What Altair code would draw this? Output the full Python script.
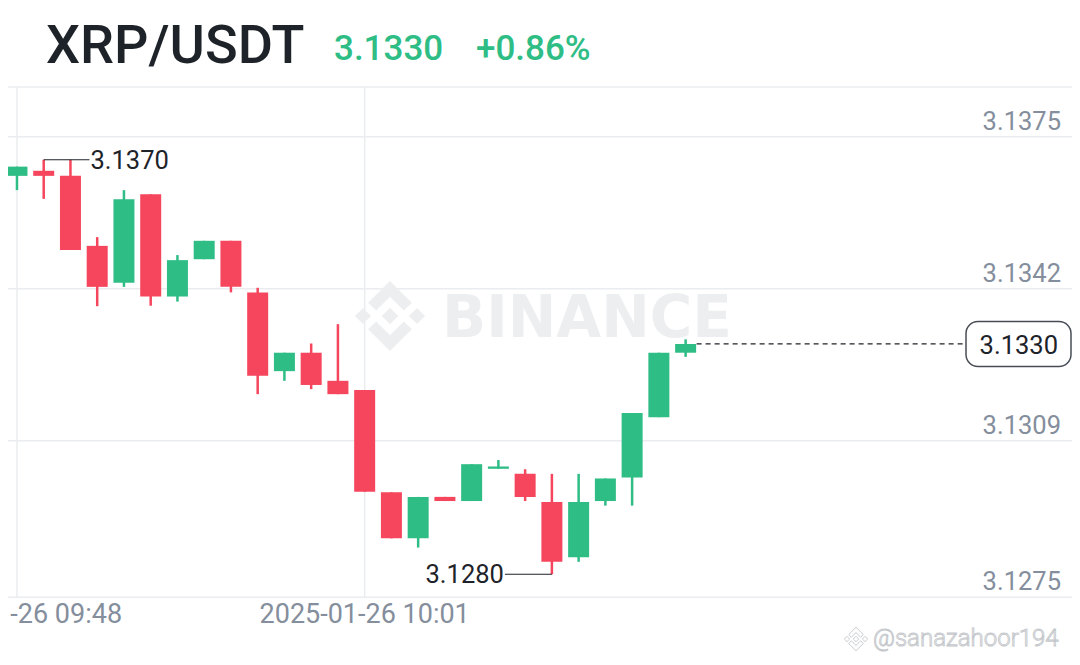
import altair as alt
import pandas as pd

# ---------------- data ----------------
times = [
    "2025-01-26 09:48", "2025-01-26 09:49", "2025-01-26 09:50", "2025-01-26 09:51",
    "2025-01-26 09:52", "2025-01-26 09:53", "2025-01-26 09:54", "2025-01-26 09:55",
    "2025-01-26 09:56", "2025-01-26 09:57", "2025-01-26 09:58", "2025-01-26 09:59",
    "2025-01-26 10:00", "2025-01-26 10:01", "2025-01-26 10:02", "2025-01-26 10:03",
    "2025-01-26 10:04", "2025-01-26 10:05", "2025-01-26 10:06", "2025-01-26 10:07",
    "2025-01-26 10:08", "2025-01-26 10:09", "2025-01-26 10:10", "2025-01-26 10:11",
    "2025-01-26 10:12", "2025-01-26 10:13",
]
opens = [3.13665, 3.13676, 3.13665, 3.13513, 3.13433, 3.13625, 3.13403, 3.13484,
         3.13524, 3.13412, 3.13241, 3.13281, 3.13220, 3.13200, 3.12978, 3.12878,
         3.12968, 3.12959, 3.13029, 3.13018, 3.12957, 3.12837, 3.12959, 3.13010,
         3.13141, 3.13281]
highs = [3.13685, 3.13700, 3.13700, 3.13532, 3.13634, 3.13625, 3.13493, 3.13524,
         3.13524, 3.13422, 3.13281, 3.13301, 3.13343, 3.13200, 3.12978, 3.12968,
         3.12968, 3.13039, 3.13048, 3.13028, 3.13018, 3.13018, 3.13008, 3.13150,
         3.13281, 3.13310]
lows = [3.13634, 3.13615, 3.13504, 3.13382, 3.13424, 3.13383, 3.13392, 3.13484,
        3.13412, 3.13191, 3.13220, 3.13202, 3.13191, 3.12979, 3.12878, 3.12858,
        3.12959, 3.12959, 3.13029, 3.12959, 3.12800, 3.12827, 3.12949, 3.12949,
        3.13141, 3.13272]
closes = [3.13685, 3.13665, 3.13504, 3.13424, 3.13614, 3.13403, 3.13482, 3.13524,
          3.13424, 3.13231, 3.13281, 3.13211, 3.13191, 3.12979, 3.12878, 3.12968,
          3.12959, 3.13039, 3.13034, 3.12968, 3.12827, 3.12957, 3.13008, 3.13150,
          3.13281, 3.13300]

price_ticks = [3.1375, 3.1342, 3.1309, 3.1275]
price_tick_labels = ["3.1375", "3.1342", "3.1309", "3.1275"]
time_ticks = ["2025-01-26 09:48", "2025-01-26 10:01"]
time_tick_labels = ["2025-01-26 09:48", "2025-01-26 10:01"]

pair_title = "XRP/USDT"
change_text = "+0.86%"
user_tag = "@sanazahoor194"
watermark_text = "BINANCE"

# ---------------- styling ----------------
UP = "#2EBD85"
DOWN = "#F6465D"
DARK = "#1E2329"
GRAY = "#848E9C"
GRID = "#EAECEF"
W, H = 1064, 646
FONT = "Roboto"

LOGO = ("M-0.394,-0.155L0,-0.549L0.394,-0.155L0.623,-0.381L0,-1L-0.623,-0.381Z "
        "M-1,0L-0.771,-0.229L-0.541,0L-0.771,0.229Z "
        "M-0.394,0.155L0,0.549L0.394,0.155L0.623,0.381L0,1L-0.623,0.381Z "
        "M1,0L0.771,-0.229L0.541,0L0.771,0.229Z "
        "M0.233,0L0,0.233L-0.233,0L0,-0.233Z")

df = pd.DataFrame({"time": times, "open": opens, "high": highs,
                   "low": lows, "close": closes})
df["dir"] = ["up" if c >= o else "down" for o, c in zip(opens, closes)]

xscale = alt.Scale(domain=[
    alt.DateTime(year=2025, month=1, date=26, hours=9, minutes=47, seconds=51, milliseconds=111),
    alt.DateTime(year=2025, month=1, date=26, hours=10, minutes=27, seconds=15, milliseconds=556),
], nice=False)
# price 3.1375 at 128.7 px and 3.1275 at 589.3 px from the top of the chart
px = 0.0100 / 460.6
yscale = alt.Scale(domain=[3.1275 - (H - 589.3) * px, 3.1375 + 128.7 * px],
                   zero=False, nice=False)
cscale = alt.Scale(domain=["up", "down"], range=[UP, DOWN])


def X(field="time:T"):
    return alt.X(field, scale=xscale, axis=None)


def Y(field):
    return alt.Y(field, scale=yscale, axis=None)


one = pd.DataFrame({"k": [0]})

# separator under header
sep = alt.Chart(one).mark_rule(color=GRID, strokeWidth=1.5).encode(
    x=alt.value(0), x2=alt.value(W), y=alt.value(79))

# vertical gridlines
vgrid_df = pd.DataFrame({"time": time_ticks, "label": time_tick_labels})
vgrid = alt.Chart(vgrid_df).mark_rule(color=GRID, strokeWidth=1.5).encode(
    x=X(), y=alt.value(79), y2=alt.value(589))

# horizontal gridlines + labels
hgrid_df = pd.DataFrame({"price": price_ticks, "label": price_tick_labels})
hgrid = alt.Chart(hgrid_df).mark_rule(color=GRID, strokeWidth=1.5).encode(
    y=Y("price:Q"), x=alt.value(0), x2=alt.value(W))
hlabels = alt.Chart(hgrid_df).mark_text(
    align="right", baseline="alphabetic", dy=-7, fontSize=25.5, font=FONT, color=GRAY
).encode(y=Y("price:Q"), x=alt.value(1053), text="label:N")

# time labels
tlabels = alt.Chart(vgrid_df).mark_text(
    align="center", baseline="middle", fontSize=27, font=FONT, color=GRAY, clip=True
).encode(x=X(), y=alt.value(607), text="label:N")

# BINANCE watermark
wm_logo = alt.Chart(one).mark_point(
    shape=LOGO, size=4900, filled=True, color="#EDEEF0", opacity=1
).encode(x=alt.value(382), y=alt.value(308))
wm_text = alt.Chart(pd.DataFrame({"t": [watermark_text]})).mark_text(
    align="left", baseline="alphabetic", fontSize=58, fontWeight="bold",
    font="DejaVu Sans", color="#EDEEF0"
).encode(x=alt.value(434), y=alt.value(329), text="t:N")

# candles
wicks = alt.Chart(df).mark_rule(strokeWidth=2.5).encode(
    x=X(), y=Y("low:Q"), y2="high:Q",
    color=alt.Color("dir:N", scale=cscale, legend=None))
bodies = alt.Chart(df).mark_bar(width=21).encode(
    x=X(), y=Y("open:Q"), y2="close:Q",
    color=alt.Color("dir:N", scale=cscale, legend=None))

# high / low markers
hi_val = max(highs)
hi_idx = [i for i, v in enumerate(highs) if v == hi_val]
lo_val = min(lows)
lo_idx = lows.index(lo_val)
hi_df = pd.DataFrame({"t0": [times[hi_idx[0]]], "t1": [times[hi_idx[-1]]],
                      "price": [hi_val], "label": [f"{hi_val:.4f}"]})
lo_df = pd.DataFrame({"t0": [times[lo_idx]], "price": [lo_val],
                      "label": [f"{lo_val:.4f}"]})
hi_line = alt.Chart(hi_df).mark_rule(color=DARK, strokeWidth=1.2, x2Offset=19).encode(
    x=X("t0:T"), x2="t1:T", y=Y("price:Q"))
hi_text = alt.Chart(hi_df).mark_text(
    align="left", baseline="middle", dx=20, dy=1, fontSize=25.5, font=FONT, color=DARK
).encode(x=X("t1:T"), y=Y("price:Q"), text="label:N")
lo_line = alt.Chart(lo_df).mark_rule(color=DARK, strokeWidth=1.2, x2Offset=-47).encode(
    x=X("t0:T"), x2="t0:T", y=Y("price:Q"))
lo_text = alt.Chart(lo_df).mark_text(
    align="right", baseline="middle", dx=-48, dy=1, fontSize=25.5, font=FONT, color=DARK
).encode(x=X("t0:T"), y=Y("price:Q"), text="label:N")

# current price line + box
last_df = pd.DataFrame({"time": [times[-1]], "price": [closes[-1]],
                        "label": [f"{closes[-1]:.4f}"]})
cur_line = alt.Chart(last_df).mark_rule(
    color=DARK, strokeWidth=1.2, strokeDash=[5, 4], xOffset=11
).encode(x=X(), x2=alt.value(958), y=Y("price:Q"))
cur_box = alt.Chart(last_df).mark_rect(
    yOffset=-22.5, y2Offset=22.5, cornerRadius=12, fill="white",
    stroke="#474D57", strokeWidth=1.5
).encode(x=alt.value(958), x2=alt.value(1063), y=Y("price:Q"), y2="price:Q")
cur_text = alt.Chart(last_df).mark_text(
    align="right", baseline="middle", dy=2, fontSize=25.5, font=FONT, color=DARK
).encode(x=alt.value(1050), y=Y("price:Q"), text="label:N")

# header
title_t = alt.Chart(pd.DataFrame({"t": [pair_title]})).mark_text(
    align="left", baseline="alphabetic", fontSize=54, fontWeight=500, font=FONT, color=DARK
).encode(x=alt.value(38), y=alt.value(55), text="t:N")
price_t = alt.Chart(last_df).mark_text(
    align="left", baseline="alphabetic", fontSize=35, fontWeight=500, font=FONT, color=UP
).encode(x=alt.value(326), y=alt.value(52), text="label:N")
chg_t = alt.Chart(pd.DataFrame({"t": [change_text]})).mark_text(
    align="left", baseline="alphabetic", fontSize=35, fontWeight=500, font=FONT, color=UP
).encode(x=alt.value(468), y=alt.value(52), text="t:N")

# user tag watermark
tag_logo = alt.Chart(one).mark_point(
    shape=LOGO, size=550, filled=False, stroke="#C9CCD0", strokeWidth=1, opacity=1
).encode(x=alt.value(848), y=alt.value(631))
tag_text = alt.Chart(pd.DataFrame({"t": [user_tag]})).mark_text(
    align="left", baseline="middle", fontSize=24, fontWeight=300, font=FONT,
    fill="white", stroke="#C4C7CB", strokeWidth=0.9
).encode(x=alt.value(865), y=alt.value(631), text="t:N")

chart = alt.layer(
    sep, vgrid, hgrid, wm_logo, wm_text, hlabels, tlabels,
    wicks, bodies, hi_line, hi_text, lo_line, lo_text,
    cur_line, cur_box, cur_text, title_t, price_t, chg_t, tag_logo, tag_text
).properties(
    width=W, height=H, padding=0, background="white",
    autosize=alt.AutoSizeParams(type="none")
).configure_view(stroke=None)

chart.save("out.html", embed_options={"renderer": "svg", "actions": False})
